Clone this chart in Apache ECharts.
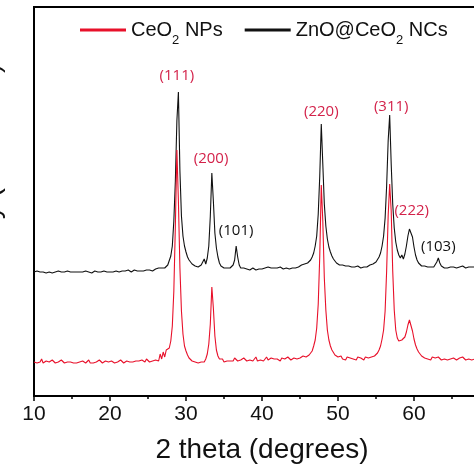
<!DOCTYPE html>
<html>
<head>
<meta charset="utf-8">
<script src="https://cdn.jsdelivr.net/npm/echarts@6/dist/echarts.min.js"></script>
<style>
  html, body { margin: 0; padding: 0; background: #fff; }
  #chart { width: 474px; height: 474px; }
</style>
</head>
<body>
<div id="chart"></div>
<script>
// 2 theta grid: 10 to 70 degrees, every 0.2
const thetaStart = 10;
const thetaStep = 0.2;

// ZnO@CeO2 NCs (black trace, offset above the red one)
const znoCeo2 = [
  124,123,125,124,124,123,124,125,123,124,
  124,125,123,124,124,123,125,124,124,123,
  124,124,125,123,124,125,124,123,124,125,
  124,126,124,123,125,124,124,125,123,124,
  125,124,124,126,124,123,125,124,124,125,
  124,125,124,123,125,126,124,124,125,124,
  125,124,126,125,124,125,126,124,125,125,
  125,126,125,124,126,125,126,127,125,126,
  127,126,128,127,128,129,128,130,131,133,
  140,150,175,215,275,304,225,180,160,150,
  144,139,136,134,132,131,130,131,129,130,
  131,133,137,132,138,150,180,223,195,163,
  148,139,133,130,129,128,127,128,127,128,
  129,131,136,150,139,131,128,127,128,127,
  127,128,126,127,128,127,126,128,127,128,
  127,126,128,127,129,127,128,126,128,127,
  128,127,129,128,127,129,128,128,127,129,
  128,129,128,130,129,130,131,130,132,131,
  133,134,136,139,143,150,160,182,220,272,
  232,192,170,157,149,144,140,137,135,133,
  132,131,130,131,129,130,129,130,128,129,
  130,129,128,130,129,128,130,129,130,129,
  130,131,130,132,133,134,136,139,143,150,
  160,178,210,255,281,232,192,168,154,146,
  141,138,141,137,142,150,160,167,168,159,
  149,141,136,133,131,130,129,130,128,129,
  128,129,128,129,131,134,138,133,130,129,
  128,129,128,130,129,128,129,130,128,129,
  129,128,130,129,128,130,129,128,129,130,
  129,128,130,129,128,129,130,128,129,128,
  129
];

// CeO2 NPs (red trace)
const ceo2 = [
  34,36,33,35,34,37,33,34,35,33,
  34,33,36,34,33,35,34,33,36,34,
  33,35,34,33,34,36,33,34,33,35,
  34,33,35,34,33,34,36,33,34,33,
  35,34,33,36,34,33,34,35,33,34,
  33,35,34,33,35,34,33,36,34,33,
  34,35,33,34,36,34,33,35,34,35,
  34,36,35,34,37,35,34,36,35,37,
  36,38,35,42,37,44,39,46,44,48,
  55,70,105,170,246,195,128,85,62,50,
  45,41,38,37,35,36,34,35,33,35,
  34,36,34,37,42,52,72,109,88,60,
  46,40,37,35,37,34,36,35,37,35,
  36,35,38,36,35,37,36,35,38,36,
  35,37,36,38,35,36,39,35,37,36,
  36,35,37,39,36,35,38,36,37,35,
  37,36,35,38,36,37,36,39,37,36,
  37,38,36,37,39,38,37,40,38,39,
  40,41,43,45,50,56,68,92,140,211,
  175,118,86,66,56,50,46,44,41,40,
  39,38,40,37,38,36,39,37,38,36,
  37,38,36,39,37,38,37,36,39,37,
  38,37,39,38,40,41,43,46,50,57,
  66,85,125,180,212,185,125,86,66,58,
  55,53,56,55,59,64,71,76,74,65,
  57,51,47,44,42,40,41,38,39,37,
  38,36,39,37,38,36,39,37,36,38,
  37,39,36,38,37,36,38,39,36,37,
  38,36,39,37,36,38,37,39,36,38,
  37,39,36,38,37,36,39,37,38,36,
  37
];

// reflection labels: [text, 2theta, height]
const ceo2Peaks = [
  ['(111)', 28.8, 320],
  ['(200)', 33.3, 237],
  ['(220)', 47.8, 284],
  ['(311)', 57.0, 289],
  ['(222)', 59.7, 185]
];
const znoPeaks = [
  ['(101)', 36.6, 165],
  ['(103)', 63.2, 149]
];

const RED = '#e8102a';
const LABEL_RED = '#d3224a';
const BLACK = '#111';

function toPairs(values) {
  return values.map((v, i) => [+(thetaStart + i * thetaStep).toFixed(1), v]);
}

function peakMarks(list, color) {
  return {
    silent: true,
    symbol: 'circle',
    symbolSize: 0,
    label: {
      show: true,
      position: 'inside',
      formatter: (p) => p.name,
      color: color,
      fontSize: 15,
      fontFamily: 'Open Sans'
    },
    data: list.map((p) => ({ name: p[0], coord: [p[1], p[2]] }))
  };
}

const chart = echarts.init(document.getElementById('chart'));

const option = {
  animation: false,
  backgroundColor: '#fff',
  grid: {
    left: 34,
    right: -16,
    top: 7,
    bottom: 78,
    containLabel: false,
    outerBoundsMode: 'none',
    show: true,
    borderColor: '#000',
    borderWidth: 2
  },
  legend: {
    data: ['CeO2 NPs', 'ZnO@CeO2 NCs'],
    left: 75,
    top: 15,
    icon: 'rect',
    itemWidth: 46,
    itemHeight: 3,
    itemGap: 22,
    formatter: (name) => name.replace(/O2/g, 'O{sub|2}'),
    textStyle: {
      fontSize: 20,
      color: BLACK,
      fontFamily: 'Liberation Sans',
      rich: {
        sub: {
          fontSize: 13,
          color: BLACK,
          fontFamily: 'Liberation Sans',
          padding: [20, 0, 0, 0]
        }
      }
    }
  },
  xAxis: {
    type: 'value',
    min: 10,
    max: 70,
    interval: 10,
    name: '2 theta (degrees)',
    nameLocation: 'middle',
    nameGap: 40,
    nameTextStyle: { fontSize: 28, color: BLACK, fontFamily: 'Liberation Sans' },
    axisLine: { lineStyle: { color: '#000', width: 2 } },
    axisTick: { length: 5, lineStyle: { color: '#000', width: 1.5 } },
    minorTick: { show: true, splitNumber: 2, length: 3, lineStyle: { color: '#000', width: 1.5 } },
    axisLabel: { fontSize: 21, color: BLACK, fontFamily: 'Liberation Sans', margin: 8 },
    splitLine: { show: false }
  },
  yAxis: {
    type: 'value',
    min: 0,
    max: 389,
    name: 'Intensity (arb. units)',
    nameLocation: 'middle',
    nameGap: 29,
    nameTextStyle: {
      fontSize: 28,
      color: BLACK,
      fontFamily: 'Liberation Sans',
      padding: [0, 0, 0, 30]
    },
    axisLine: { show: true, lineStyle: { color: '#000', width: 2 } },
    axisTick: { show: false },
    axisLabel: { show: false },
    splitLine: { show: false }
  },
  series: [
    {
      name: 'ZnO@CeO2 NCs',
      type: 'line',
      symbol: 'none',
      sampling: 'none',
      color: BLACK,
      lineStyle: { color: BLACK, width: 1.1 },
      data: toPairs(znoCeo2),
      markPoint: peakMarks(znoPeaks, BLACK)
    },
    {
      name: 'CeO2 NPs',
      type: 'line',
      symbol: 'none',
      sampling: 'none',
      color: RED,
      lineStyle: { color: RED, width: 1.1 },
      data: toPairs(ceo2),
      markPoint: peakMarks(ceo2Peaks, LABEL_RED)
    }
  ]
};

chart.setOption(option);
</script>
</body>
</html>
